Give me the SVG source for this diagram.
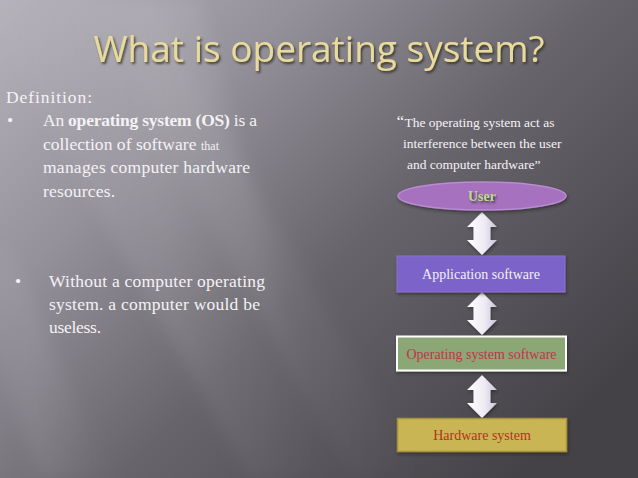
<svg xmlns="http://www.w3.org/2000/svg" width="638" height="478" viewBox="0 0 638 478">
<defs>
<linearGradient id="bg" x1="0" y1="0" x2="1" y2="0.75">
<stop offset="0" stop-color="#b7b3bb"/>
<stop offset="0.3" stop-color="#95919a"/>
<stop offset="0.6" stop-color="#67646b"/>
<stop offset="1" stop-color="#444247"/>
</linearGradient>
<linearGradient id="streak" x1="0" y1="0" x2="1" y2="0">
<stop offset="0" stop-color="#ffffff" stop-opacity="0"/>
<stop offset="0.5" stop-color="#ffffff" stop-opacity="0.09"/>
<stop offset="1" stop-color="#ffffff" stop-opacity="0"/>
</linearGradient>
<linearGradient id="arrowFill" x1="0" y1="0" x2="1" y2="0">
<stop offset="0" stop-color="#ffffff"/>
<stop offset="0.6" stop-color="#eeeaf4"/>
<stop offset="1" stop-color="#c9c1d8"/>
</linearGradient>
<filter id="blur" x="-20%" y="-20%" width="140%" height="140%">
<feGaussianBlur stdDeviation="8"/>
</filter>
<filter id="shadow" x="-20%" y="-20%" width="140%" height="150%">
<feDropShadow dx="1" dy="2" stdDeviation="1.5" flood-color="#1a1a1a" flood-opacity="0.55"/>
</filter>
<filter id="tshadow" x="-5%" y="-20%" width="110%" height="150%">
<feDropShadow dx="1.5" dy="2" stdDeviation="1" flood-color="#2a2a22" flood-opacity="0.8"/>
</filter>
<polygon id="dblarrow" points="0,0 15,15 8.5,15 8.5,28 15,28 0,43 -15,28 -8.5,28 -8.5,15 -15,15"/>
</defs>
<style>
.body{font-family:"Liberation Serif","DejaVu Serif",serif;font-size:17.5px;fill:#f4f2f6}
.quote{font-family:"Liberation Serif","DejaVu Serif",serif;font-size:13.5px;fill:#f4f2f6}
.lbl{font-family:"Liberation Serif","DejaVu Serif",serif;font-size:14px;text-anchor:middle}
.arrow{fill:url(#arrowFill);filter:url(#shadow)}
</style>
<rect width="638" height="478" fill="url(#bg)"/>
<g filter="url(#blur)">
<polygon points="0,40 60,0 200,0 330,478 250,478" fill="url(#streak)"/>
<polygon points="90,0 150,0 420,478 350,478" fill="url(#streak)" opacity="0.7"/>
<polygon points="-40,250 10,250 110,478 40,478" fill="url(#streak)" opacity="0.8"/>
</g>

<g id="title">
<text x="319" y="62" text-anchor="middle" font-family="'Open Sans','Liberation Sans',sans-serif" font-size="37" fill="#e8d99c" filter="url(#tshadow)">What is operating system?</text>
</g>

<g id="definition">
<text x="6" y="103" class="body" textLength="86" lengthAdjust="spacing">Definition:</text>
<text x="7" y="126" class="body" font-size="10">•</text>
<text x="43" y="126" class="body" textLength="214" lengthAdjust="spacing">An <tspan font-weight="bold">operating system (OS)</tspan> is a</text>
<text x="43" y="150" class="body" textLength="176" lengthAdjust="spacing">collection of software <tspan font-size="12">that</tspan></text>
<text x="43" y="173" class="body" textLength="207" lengthAdjust="spacing">manages computer hardware</text>
<text x="43" y="197" class="body" textLength="72" lengthAdjust="spacing">resources.</text>
</g>

<g id="without">
<text x="15" y="287" class="body" font-size="10">•</text>
<text x="49" y="287" class="body" textLength="216" lengthAdjust="spacing">Without a computer operating</text>
<text x="49" y="310" class="body" textLength="211" lengthAdjust="spacing">system. a computer  would be</text>
<text x="49" y="333" class="body" textLength="52" lengthAdjust="spacing">useless.</text>
</g>

<g id="quote">
<text x="395" y="127" class="quote"><tspan font-size="17" font-style="italic">“</tspan>The operating system act as</text>
<text x="403" y="148" class="quote">interference between the user</text>
<text x="407" y="169" class="quote">and computer hardware”</text>
</g>

<g id="connectors">
<use href="#dblarrow" x="482" y="212" class="arrow"/>
<use href="#dblarrow" x="482" y="292" class="arrow"/>
<use href="#dblarrow" x="482" y="375" class="arrow"/>
</g>

<g id="user">
<ellipse cx="482" cy="196" rx="84" ry="14" fill="#a672c0" stroke="#b98bd0" stroke-width="1.5" filter="url(#shadow)"/>
<text x="482" y="201" class="lbl" font-size="12.5" font-weight="bold" fill="#b8d88c" filter="url(#tshadow)">User</text>
</g>

<g id="application">
<rect x="397" y="256" width="168" height="36" fill="#7b63c9" stroke="#8a74d2" stroke-width="1" filter="url(#shadow)"/>
<text x="481" y="278.5" class="lbl" fill="#f2eff9">Application software</text>
</g>

<g id="os">
<rect x="397" y="336.5" width="169" height="34" fill="#8aa775" stroke="#ffffff" stroke-width="2" filter="url(#shadow)"/>
<text x="481.5" y="358.5" class="lbl" fill="#c2334a">Operating system software</text>
</g>

<g id="hardware">
<rect x="397.5" y="418.5" width="169" height="33" fill="#cab555" stroke="#a8913a" stroke-width="1.5" filter="url(#shadow)"/>
<text x="482" y="440" class="lbl" fill="#b5321c">Hardware system</text>
</g>
</svg>
